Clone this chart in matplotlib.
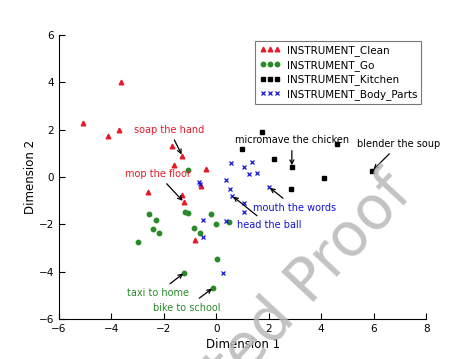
import matplotlib
matplotlib.use('Agg')
from matplotlib import pyplot as plt

# INSTRUMENT_Clean
clean_x = [-3.65, -5.1, -4.15, -3.7, -1.7, -1.3, -1.6, -0.4, -2.6, -1.3, -1.25, -0.6, -0.8]
clean_y = [4.0, 2.3, 1.75, 2.0, 1.3, 0.9, 0.5, 0.35, -0.65, -0.75, -1.05, -0.4, -2.65]

# INSTRUMENT_Go
go_x = [-1.1, -2.55, -2.3, -2.4, -2.17, -3.0, -1.18, -1.1, -0.85, -0.62, -0.22, -0.01, 0.5, 0.04, -1.22, -0.12]
go_y = [0.3, -1.55, -1.8, -2.2, -2.37, -2.75, -1.46, -1.53, -2.15, -2.38, -1.56, -1.98, -1.9, -3.46, -4.04, -4.68]

# INSTRUMENT_Kitchen
kitchen_x = [1.76, 0.97, 2.18, 2.88, 4.59, 5.95, 4.12, 2.83]
kitchen_y = [1.89, 1.18, 0.76, 0.44, 1.39, 0.27, -0.05, -0.52]

# INSTRUMENT_Body_Parts
body_x = [0.55, 1.06, 1.35, 1.26, 1.54, 0.38, 0.51, 0.6, 1.07, 1.06, 2.0, -0.67, -0.63, -0.49, -0.52, 0.25, 0.36]
body_y = [0.6, 0.41, 0.65, 0.13, 0.17, -0.13, -0.52, -0.79, -1.08, -1.48, -0.42, -0.21, -0.3, -1.83, -2.55, -4.06, -1.86]

red = '#e41a2a'
green = '#2a8a2a'
blue = '#1414d8'

fig = plt.figure(figsize=(4.74, 3.59), dpi=100)
ax = fig.add_axes([0.1245, 0.1114, 0.7745, 0.7911])

ax.plot(clean_x, clean_y, '^', color=red, mec=red, ms=3.3, label='INSTRUMENT_Clean')
ax.plot(go_x, go_y, 'o', color=green, mec=green, ms=3.2, label='INSTRUMENT_Go')
ax.plot(kitchen_x, kitchen_y, 's', color='black', mec='black', ms=2.8, label='INSTRUMENT_Kitchen')
ax.plot(body_x, body_y, 'x', color=blue, mec=blue, ms=3.0, mew=0.9, label='INSTRUMENT_Body_Parts')

# (label, colour, x list, y list, point index, text position)
notes = [
    ('soap the hand', red, clean_x, clean_y, 5, (-1.8, 2.0)),
    ('mop the floor', red, clean_x, clean_y, 10, (-2.24, 0.13)),
    ('micromave the chicken', 'black', kitchen_x, kitchen_y, 3, (2.88, 1.56)),
    ('blender the soup', 'black', kitchen_x, kitchen_y, 5, (6.97, 1.39)),
    ('mouth the words', blue, body_x, body_y, 10, (3.0, -1.30)),
    ('head the ball', blue, body_x, body_y, 7, (2.0, -2.04)),
    ('taxi to home', green, go_x, go_y, 14, (-2.23, -4.91)),
    ('bike to school', green, go_x, go_y, 15, (-1.13, -5.52)),
]
for text, col, xs, ys, i, pos in notes:
    ax.annotate(text, xy=(xs[i], ys[i]), xytext=pos, color=col, fontsize=7,
                ha='center', va='center', annotation_clip=False,
                arrowprops=dict(arrowstyle='->', color='black', lw=0.9,
                                shrinkA=2, shrinkB=1))

ax.set_xlim(-6, 8)
ax.set_ylim(-6, 6)
ax.set_xticks(range(-6, 9, 2))
ax.set_yticks(range(-6, 7, 2))
ax.spines['top'].set_visible(False)
ax.spines['right'].set_visible(False)
ax.tick_params(direction='in', length=4, labelsize=7.5, top=False, right=False)
ax.set_xlabel('Dimension 1', fontsize=8.5, labelpad=3)
ax.set_ylabel('Dimension 2', fontsize=8.5, labelpad=1)

leg = ax.legend(loc='upper right', numpoints=3, fontsize=7.5, fancybox=False,
                borderaxespad=0, handletextpad=0.6, labelspacing=0.35,
                bbox_to_anchor=(0.987, 0.979))
leg.get_frame().set_edgecolor('#555555')
leg.get_frame().set_linewidth(0.8)

fig.text(0.525, 0.033, 'Accepted Proof', fontsize=43, color='#b8b8b8', alpha=0.85,
         rotation=47, rotation_mode='anchor', ha='center', va='center')

fig.savefig('out.png', dpi=100)
